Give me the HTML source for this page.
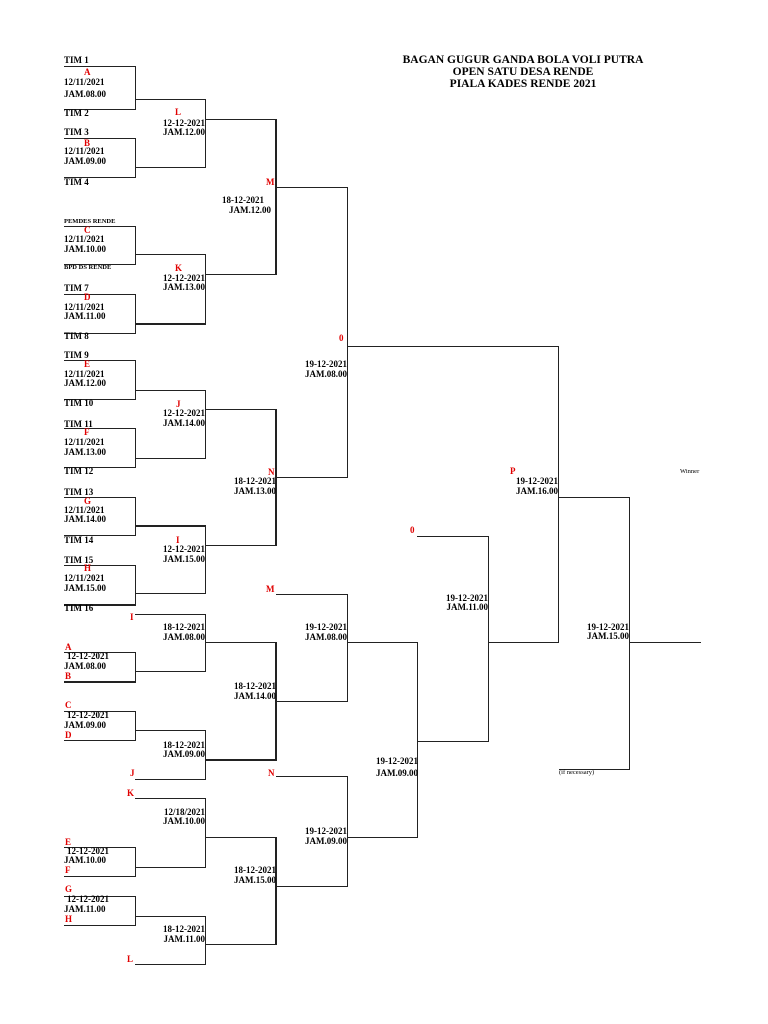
<!DOCTYPE html>
<html><head><meta charset="utf-8"><style>
body{margin:0;width:768px;height:1024px;background:#fff;position:relative;overflow:hidden;font-family:"Liberation Serif",serif;}
.h,.v{position:absolute;background:#222;}
.h{height:1px}.v{width:1px}
.t{position:absolute;font-size:9px;font-weight:bold;line-height:10px;white-space:nowrap;color:#000}
.r{color:#e00000}
.s{font-size:6.5px}
.ttl{position:absolute;left:373px;width:300px;text-align:center;font-size:11.5px;font-weight:bold;line-height:12px;top:54px}
</style></head><body>
<div class="ttl">BAGAN GUGUR GANDA BOLA VOLI PUTRA<br>OPEN SATU DESA RENDE<br>PIALA KADES RENDE 2021</div>

<!-- winners boxes -->
<div class="h" style="left:64px;width:72px;top:66px"></div><div class="h" style="left:64px;width:72px;top:109px"></div><div class="v" style="left:135px;top:66px;height:44px"></div>
<div class="h" style="left:64px;width:72px;top:138px"></div><div class="h" style="left:64px;width:72px;top:177px"></div><div class="v" style="left:135px;top:138px;height:40px"></div>
<div class="h" style="left:64px;width:72px;top:226px"></div><div class="h" style="left:64px;width:72px;top:264px"></div><div class="v" style="left:135px;top:226px;height:39px"></div>
<div class="h" style="left:64px;width:72px;top:294px"></div><div class="h" style="left:64px;width:72px;top:333px"></div><div class="v" style="left:135px;top:294px;height:40px"></div>
<div class="h" style="left:64px;width:72px;top:360px"></div><div class="h" style="left:64px;width:72px;top:399px"></div><div class="v" style="left:135px;top:360px;height:40px"></div>
<div class="h" style="left:64px;width:72px;top:428px"></div><div class="h" style="left:64px;width:72px;top:467px"></div><div class="v" style="left:135px;top:428px;height:40px"></div>
<div class="h" style="left:64px;width:72px;top:497px"></div><div class="h" style="left:64px;width:72px;top:535px"></div><div class="v" style="left:135px;top:497px;height:39px"></div>
<div class="h" style="left:64px;width:72px;top:565px"></div><div class="h" style="left:64px;width:72px;top:604px;height:2px"></div><div class="v" style="left:135px;top:565px;height:40px"></div>

<!-- round 2 winners -->
<div class="h" style="left:135px;width:71px;top:99px"></div><div class="h" style="left:135px;width:71px;top:167px"></div><div class="v" style="left:205px;top:99px;height:69px"></div>
<div class="h" style="left:135px;width:71px;top:254px"></div><div class="h" style="left:135px;width:71px;top:323px;height:2px"></div><div class="v" style="left:205px;top:254px;height:70px"></div>
<div class="h" style="left:135px;width:71px;top:390px"></div><div class="h" style="left:135px;width:71px;top:458px"></div><div class="v" style="left:205px;top:390px;height:69px"></div>
<div class="h" style="left:135px;width:71px;top:525px;height:2px"></div><div class="h" style="left:135px;width:71px;top:593px"></div><div class="v" style="left:205px;top:525px;height:69px"></div>

<div class="h" style="left:205px;width:72px;top:119px"></div><div class="h" style="left:205px;width:72px;top:274px"></div><div class="v" style="left:275px;top:119px;height:156px;width:2px"></div>
<div class="h" style="left:205px;width:72px;top:409px"></div><div class="h" style="left:205px;width:72px;top:545px"></div><div class="v" style="left:275px;top:409px;height:137px;width:2px"></div>

<div class="h" style="left:276px;width:72px;top:187px"></div><div class="h" style="left:276px;width:72px;top:477px"></div><div class="v" style="left:347px;top:187px;height:291px"></div>
<div class="h" style="left:347px;width:212px;top:346px"></div>
<div class="v" style="left:558px;top:346px;height:297px"></div>
<div class="h" style="left:558px;width:72px;top:497px"></div>
<div class="v" style="left:629px;top:497px;height:273px"></div>
<div class="h" style="left:559px;width:71px;top:769px"></div>
<div class="h" style="left:629px;width:72px;top:642px"></div>

<!-- losers bracket -->
<div class="h" style="left:135px;width:71px;top:614px"></div><div class="v" style="left:205px;top:614px;height:58px"></div>
<div class="h" style="left:64px;width:72px;top:652px"></div><div class="h" style="left:64px;width:72px;top:681px;height:2px"></div><div class="v" style="left:135px;top:652px;height:30px"></div>
<div class="h" style="left:135px;width:71px;top:671px"></div>
<div class="h" style="left:64px;width:72px;top:711px"></div><div class="h" style="left:64px;width:72px;top:740px"></div><div class="v" style="left:135px;top:711px;height:30px"></div>
<div class="h" style="left:135px;width:71px;top:730px"></div><div class="v" style="left:205px;top:730px;height:50px"></div>
<div class="h" style="left:135px;width:71px;top:779px"></div>
<div class="h" style="left:205px;width:72px;top:642px"></div><div class="h" style="left:205px;width:72px;top:759px;height:2px"></div><div class="v" style="left:275px;top:642px;height:119px;width:2px"></div>
<div class="h" style="left:276px;width:72px;top:701px"></div>
<div class="h" style="left:276px;width:72px;top:594px"></div><div class="v" style="left:347px;top:594px;height:108px"></div>
<div class="h" style="left:347px;width:71px;top:642px"></div>

<div class="h" style="left:135px;width:71px;top:798px"></div><div class="v" style="left:205px;top:798px;height:70px"></div>
<div class="h" style="left:64px;width:72px;top:847px"></div><div class="h" style="left:64px;width:72px;top:876px"></div><div class="v" style="left:135px;top:847px;height:30px"></div>
<div class="h" style="left:135px;width:71px;top:867px"></div>
<div class="h" style="left:64px;width:72px;top:896px"></div><div class="h" style="left:64px;width:72px;top:925px"></div><div class="v" style="left:135px;top:896px;height:30px"></div>
<div class="h" style="left:135px;width:71px;top:916px"></div><div class="v" style="left:205px;top:916px;height:49px"></div>
<div class="h" style="left:135px;width:71px;top:964px"></div>
<div class="h" style="left:205px;width:72px;top:837px"></div><div class="h" style="left:205px;width:72px;top:944px"></div><div class="v" style="left:275px;top:837px;height:108px;width:2px"></div>
<div class="h" style="left:276px;width:72px;top:886px"></div>
<div class="h" style="left:276px;width:72px;top:776px"></div><div class="v" style="left:347px;top:776px;height:111px"></div>
<div class="h" style="left:347px;width:71px;top:837px"></div>
<div class="v" style="left:417px;top:642px;height:196px"></div>
<div class="h" style="left:417px;width:72px;top:741px"></div>
<div class="h" style="left:417px;width:72px;top:536px"></div><div class="v" style="left:488px;top:536px;height:206px"></div>
<div class="h" style="left:488px;width:71px;top:642px"></div>

<!-- column 1 text -->
<div class="t" style="left:64px;top:55px">TIM 1</div>
<div class="t r" style="left:84px;top:67px">A</div>
<div class="t" style="left:64px;top:77px">12/11/2021</div>
<div class="t" style="left:64px;top:89px">JAM.08.00</div>
<div class="t" style="left:64px;top:108px">TIM 2</div>
<div class="t" style="left:64px;top:127px">TIM 3</div>
<div class="t r" style="left:84px;top:138px">B</div>
<div class="t" style="left:64px;top:146px">12/11/2021</div>
<div class="t" style="left:64px;top:156px">JAM.09.00</div>
<div class="t" style="left:64px;top:177px">TIM 4</div>
<div class="t s" style="left:64px;top:217px">PEMDES RENDE</div>
<div class="t r" style="left:84px;top:225px">C</div>
<div class="t" style="left:64px;top:234px">12/11/2021</div>
<div class="t" style="left:64px;top:244px">JAM.10.00</div>
<div class="t s" style="left:64px;top:263px">BPD DS RENDE</div>
<div class="t" style="left:64px;top:283px">TIM 7</div>
<div class="t r" style="left:84px;top:292px">D</div>
<div class="t" style="left:64px;top:302px">12/11/2021</div>
<div class="t" style="left:64px;top:311px">JAM.11.00</div>
<div class="t" style="left:64px;top:331px">TIM 8</div>
<div class="t" style="left:64px;top:350px">TIM 9</div>
<div class="t r" style="left:84px;top:359px">E</div>
<div class="t" style="left:64px;top:369px">12/11/2021</div>
<div class="t" style="left:64px;top:378px">JAM.12.00</div>
<div class="t" style="left:64px;top:398px">TIM 10</div>
<div class="t" style="left:64px;top:419px">TIM 11</div>
<div class="t r" style="left:84px;top:427px">F</div>
<div class="t" style="left:64px;top:437px">12/11/2021</div>
<div class="t" style="left:64px;top:447px">JAM.13.00</div>
<div class="t" style="left:64px;top:466px">TIM 12</div>
<div class="t" style="left:64px;top:487px">TIM 13</div>
<div class="t r" style="left:84px;top:496px">G</div>
<div class="t" style="left:64px;top:505px">12/11/2021</div>
<div class="t" style="left:64px;top:514px">JAM.14.00</div>
<div class="t" style="left:64px;top:535px">TIM 14</div>
<div class="t" style="left:64px;top:555px">TIM 15</div>
<div class="t r" style="left:84px;top:563px">H</div>
<div class="t" style="left:64px;top:573px">12/11/2021</div>
<div class="t" style="left:64px;top:583px">JAM.15.00</div>
<div class="t" style="left:64px;top:603px">TIM 16</div>

<!-- round labels winners -->
<div class="t r" style="left:175px;top:107px">L</div>
<div class="t" style="right:563px;top:118px">12-12-2021</div>
<div class="t" style="right:563px;top:127px">JAM.12.00</div>
<div class="t r" style="left:175px;top:263px">K</div>
<div class="t" style="right:563px;top:273px">12-12-2021</div>
<div class="t" style="right:563px;top:282px">JAM.13.00</div>
<div class="t r" style="left:176px;top:399px">J</div>
<div class="t" style="right:563px;top:408px">12-12-2021</div>
<div class="t" style="right:563px;top:418px">JAM.14.00</div>
<div class="t r" style="left:176px;top:535px">I</div>
<div class="t" style="right:563px;top:544px">12-12-2021</div>
<div class="t" style="right:563px;top:554px">JAM.15.00</div>
<div class="t r" style="left:266px;top:177px">M</div>
<div class="t" style="left:222px;top:195px">18-12-2021</div>
<div class="t" style="right:497px;top:205px">JAM.12.00</div>
<div class="t r" style="left:268px;top:467px">N</div>
<div class="t" style="right:492px;top:476px">18-12-2021</div>
<div class="t" style="right:492px;top:486px">JAM.13.00</div>
<div class="t r" style="left:339px;top:333px">0</div>
<div class="t" style="right:421px;top:359px">19-12-2021</div>
<div class="t" style="right:421px;top:369px">JAM.08.00</div>
<div class="t r" style="left:510px;top:466px">P</div>
<div class="t" style="right:210px;top:476px">19-12-2021</div>
<div class="t" style="right:210px;top:486px">JAM.16.00</div>
<div class="t s" style="left:680px;top:467px;font-weight:normal">Winner</div>

<!-- losers text -->
<div class="t r" style="left:130px;top:612px">I</div>
<div class="t" style="right:563px;top:622px">18-12-2021</div>
<div class="t" style="right:563px;top:632px">JAM.08.00</div>
<div class="t r" style="left:65px;top:642px">A</div>
<div class="t" style="left:67px;top:651px">12-12-2021</div>
<div class="t" style="left:64px;top:661px">JAM.08.00</div>
<div class="t r" style="left:65px;top:671px">B</div>
<div class="t r" style="left:266px;top:584px">M</div>
<div class="t" style="right:421px;top:622px">19-12-2021</div>
<div class="t" style="right:421px;top:632px">JAM.08.00</div>
<div class="t" style="right:492px;top:681px">18-12-2021</div>
<div class="t" style="right:492px;top:691px">JAM.14.00</div>
<div class="t r" style="left:65px;top:700px">C</div>
<div class="t" style="left:67px;top:710px">12-12-2021</div>
<div class="t" style="left:64px;top:720px">JAM.09.00</div>
<div class="t r" style="left:65px;top:730px">D</div>
<div class="t" style="right:563px;top:740px">18-12-2021</div>
<div class="t" style="right:563px;top:749px">JAM.09.00</div>
<div class="t r" style="left:130px;top:768px">J</div>
<div class="t r" style="left:268px;top:768px">N</div>
<div class="t" style="right:350px;top:756px">19-12-2021</div>
<div class="t" style="right:350px;top:768px">JAM.09.00</div>
<div class="t r" style="left:410px;top:525px">0</div>
<div class="t" style="right:280px;top:593px">19-12-2021</div>
<div class="t" style="right:280px;top:602px">JAM.11.00</div>
<div class="t" style="right:139px;top:622px">19-12-2021</div>
<div class="t" style="right:139px;top:631px">JAM.15.00</div>
<div class="t s" style="left:559px;top:768px;font-weight:normal">(if necessary)</div>
<div class="t r" style="left:127px;top:788px">K</div>
<div class="t" style="right:563px;top:807px">12/18/2021</div>
<div class="t" style="right:563px;top:816px">JAM.10.00</div>
<div class="t r" style="left:65px;top:837px">E</div>
<div class="t" style="left:67px;top:846px">12-12-2021</div>
<div class="t" style="left:64px;top:855px">JAM.10.00</div>
<div class="t r" style="left:65px;top:865px">F</div>
<div class="t" style="right:421px;top:826px">19-12-2021</div>
<div class="t" style="right:421px;top:836px">JAM.09.00</div>
<div class="t" style="right:492px;top:865px">18-12-2021</div>
<div class="t" style="right:492px;top:875px">JAM.15.00</div>
<div class="t r" style="left:65px;top:884px">G</div>
<div class="t" style="left:67px;top:894px">12-12-2021</div>
<div class="t" style="left:64px;top:904px">JAM.11.00</div>
<div class="t r" style="left:65px;top:914px">H</div>
<div class="t" style="right:563px;top:924px">18-12-2021</div>
<div class="t" style="right:563px;top:934px">JAM.11.00</div>
<div class="t r" style="left:127px;top:954px">L</div>
</body></html>
